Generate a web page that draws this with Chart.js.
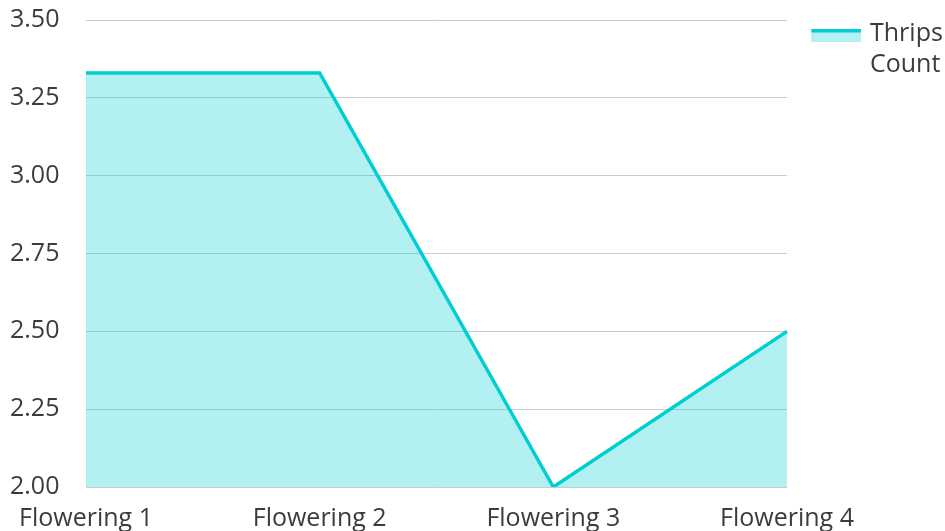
<!DOCTYPE html>
<html lang="en">
<head>
    <meta charset="UTF-8">
    <title>Thrips Count</title>
    <script src="https://cdn.jsdelivr.net/npm/chart.js"></script>
    <style>
        html, body { margin: 0; padding: 0; background: #fff; }
        #wrap { width: 945px; height: 531px; }
    </style>
</head>
<body>
    <div id="wrap"><canvas id="myChart"></canvas></div>

    <script>
        // chart data
        var stages = ['Flowering 1', 'Flowering 2', 'Flowering 3', 'Flowering 4'];
        var thripsCount = [3.33, 3.33, 2.00, 2.50];
        var seriesName = 'Thrips Count';

        var lineColor = 'rgb(0, 206, 209)';
        var fillColor = 'rgba(0, 206, 209, 0.3)';

        // legend swatch: thick line on top, pale fill below
        // (drawn off-centre inside the image so it sits where the original one does)
        var swatch = document.createElement('canvas');
        swatch.width = 77;
        swatch.height = 19;
        var sctx = swatch.getContext('2d');
        sctx.fillStyle = fillColor;
        sctx.fillRect(27, 5, 50, 13);
        sctx.fillStyle = lineColor;
        sctx.fillRect(27, 5, 50, 3.5);

        Chart.defaults.font.family = '"Open Sans", "Noto Sans", sans-serif';
        Chart.defaults.font.size = 25;
        Chart.defaults.color = '#3c3c3c';

        const ctx = document.getElementById('myChart');

        new Chart(ctx, {
            type: 'line',
            data: {
                labels: stages,
                datasets: [{
                    label: seriesName,
                    data: thripsCount,
                    borderColor: lineColor,
                    backgroundColor: fillColor,
                    borderWidth: 3.5,
                    fill: 'origin',
                    tension: 0,
                    pointRadius: 0
                }]
            },
            options: {
                responsive: true,
                maintainAspectRatio: false,
                animation: false,
                layout: {
                    padding: { left: 10, top: 20, right: 0, bottom: 0 }
                },
                scales: {
                    x: {
                        offset: false,
                        grid: { display: false, drawTicks: false },
                        border: { display: false },
                        afterFit: function (scale) { scale.height = 44; },
                        ticks: { padding: 17, maxRotation: 0 }
                    },
                    y: {
                        min: 2,
                        max: 3.5,
                        grid: { color: '#cccccc', drawTicks: false },
                        border: { display: false },
                        afterFit: function (scale) { scale.width = 76; },
                        ticks: {
                            stepSize: 0.25,
                            padding: 0,
                            crossAlign: 'far',
                            callback: function (v) { return v.toFixed(2); }
                        }
                    }
                },
                plugins: {
                    legend: {
                        position: 'right',
                        align: 'start',
                        maxWidth: 158,
                        labels: {
                            usePointStyle: true,
                            pointStyleWidth: 69.5,
                            boxHeight: 14,
                            padding: 1,
                            font: { size: 25, lineHeight: 1.24 },
                            generateLabels: function (chart) {
                                var items = Chart.defaults.plugins.legend.labels.generateLabels(chart);
                                items.forEach(function (it) {
                                    it.text = it.text.split(' ');
                                    it.pointStyle = swatch;
                                });
                                return items;
                            }
                        }
                    },
                    tooltip: { enabled: false }
                }
            }
        });
    </script>
</body>
</html>
